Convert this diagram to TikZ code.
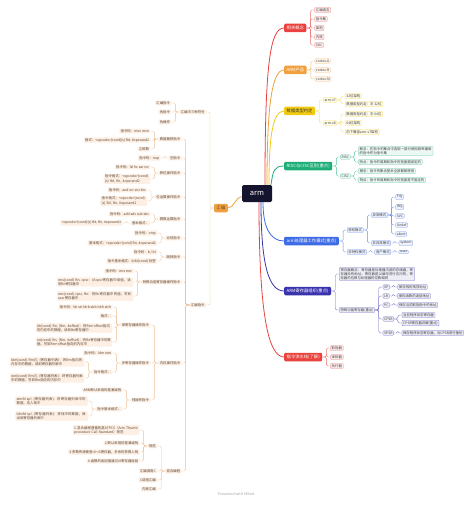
\documentclass[tikz,border=0pt]{standalone}
\usepackage{fontspec}
\setmainfont{Noto Sans CJK SC}
\XeTeXlinebreaklocale "zh"
\XeTeXlinebreakskip = 0pt plus 1pt
\usetikzlibrary{positioning,calc}
\definecolor{rootc}{HTML}{14142E}
\definecolor{cA}{HTML}{E8413F}
\definecolor{cB}{HTML}{F0A03C}
\definecolor{cC}{HTML}{F2CB0F}
\definecolor{cD}{HTML}{1DAE78}
\definecolor{cE}{HTML}{3E6BE6}
\definecolor{cF}{HTML}{3A33AE}
\definecolor{cG}{HTML}{E8433D}
\definecolor{lfbg}{HTML}{FDEFE3}
\definecolor{lfln}{HTML}{F0C197}
\definecolor{lftx}{HTML}{5A4636}

\begin{document}
\begin{tikzpicture}[x=1pt,y=-1pt,
  root/.style={fill=rootc,text=white,rounded corners=1.5pt,inner sep=0pt,minimum width=30pt,minimum height=17pt,font=\fontsize{7.5}{8}\selectfont},
  brn/.style={fill=#1,text=white,rounded corners=1.2pt,inner xsep=2.5pt,inner ysep=0pt,minimum height=8.5pt,font=\fontsize{4.3}{5}\selectfont},
  lf/.style={fill=lfbg,text=lftx,rounded corners=0.8pt,inner xsep=1.2pt,inner ysep=0.9pt,align=left,font=\fontsize{3.4}{4.1}\selectfont,anchor=east},
  rl/.style={fill=#1!9,draw=#1!70,line width=0.25pt,text=black!75,rounded corners=0.8pt,inner xsep=1.2pt,inner ysep=0.9pt,align=left,font=\fontsize{3.4}{4.1}\selectfont,anchor=west},
  lnkL/.style={draw=lfln,line width=0.35pt,rounded corners=1.5pt,to path={-- ++(-4,0) |- (\tikztotarget)}},
  lnkR/.style={draw=#1!75,line width=0.35pt,rounded corners=1.5pt,to path={-- ++(4,0) |- (\tikztotarget)}},
  bigl/.style={draw=#1,line width=0.8pt}]
\useasboundingbox (0,0) rectangle (474,508);
\fill[white] (0,0) rectangle (474,508);
% ---------- root ----------
\node[root] (arm) at (257,193.5) {arm};
% ---------- right: 相关概念 ----------
\node[brn=cA,anchor=west] (gn) at (284,28) {相关概念};
\node[rl=cA] (gn1) at ([xshift=8]gn.east |- 0,10) {汇编语言};
\node[rl=cA] (gn2) at ([xshift=8]gn.east |- 0,19) {指令集};
\node[rl=cA] (gn3) at ([xshift=8]gn.east |- 0,28) {架构};
\node[rl=cA] (gn4) at ([xshift=8]gn.east |- 0,37) {内核};
\node[rl=cA] (gn5) at ([xshift=8]gn.east |- 0,45) {SOC};
\foreach \c in {gn1,gn2,gn3,gn4,gn5} \draw[lnkR=cA] (gn.east) to (\c.west);
% ---------- right: ARM产品 ----------
\node[brn=cB,anchor=west] (cp) at (284,70) {ARM产品};
\node[rl=cB] (cp1) at ([xshift=8]cp.east |- 0,61) {cortex-A};
\node[rl=cB] (cp2) at ([xshift=8]cp.east |- 0,70) {cortex-R};
\node[rl=cB] (cp3) at ([xshift=8]cp.east |- 0,79) {cortex-M};
\foreach \c in {cp1,cp2,cp3} \draw[lnkR=cB] (cp.east) to (\c.west);
% ---------- right: 数据类型约定 ----------
\node[brn=cC,text=black!80,anchor=west] (sj) at (284,111) {数据类型约定};
\node[rl=cC] (v7) at ([xshift=8]sj.east |- 0,100) {arm-v7};
\node[rl=cC] (v8) at ([xshift=8]sj.east |- 0,123) {arm-v8};
\node[rl=cC] (v71) at ([xshift=8]v7.east |- 0,96) {32位架构};
\node[rl=cC] (v72) at ([xshift=8]v7.east |- 0,104) {数据类型约定：字 32位};
\node[rl=cC] (v81) at ([xshift=8]v8.east |- 0,114) {数据类型约定：字 64位};
\node[rl=cC] (v82) at ([xshift=8]v8.east |- 0,123) {64位架构};
\node[rl=cC] (v83) at ([xshift=8]v8.east |- 0,132) {向下兼容arm-v7架构};
\foreach \c in {v7,v8} \draw[lnkR=cC] (sj.east) to (\c.west);
\foreach \c in {v71,v72} \draw[lnkR=cC] (v7.east) to (\c.west);
\foreach \c in {v81,v82,v83} \draw[lnkR=cC] (v8.east) to (\c.west);
% ---------- right: RISC/CISC ----------
\node[brn=cD,anchor=west] (rc) at (284,166) {RISC与CISC区别(重点)};
\node[rl=cD] (ri) at ([xshift=8]rc.east |- 0,157) {RISC};
\node[rl=cD] (ci) at ([xshift=8]rc.east |- 0,176) {CISC};
\node[rl=cD,text width=72pt] (ri1) at ([xshift=8]ri.east |- 0,151) {概念：在指令的集合中选取一部分使用频率最高的指令作为指令集};
\node[rl=cD] (ri2) at ([xshift=8]ri.east |- 0,162) {特点：指令的周期和指令的宽度是固定的};
\node[rl=cD] (ci1) at ([xshift=8]ci.east |- 0,171) {概念：指令的集合基本全部都被使用};
\node[rl=cD] (ci2) at ([xshift=8]ci.east |- 0,180) {特点：指令的周期和指令的宽度是不固定的};
\foreach \c in {ri,ci} \draw[lnkR=cD] (rc.east) to (\c.west);
\foreach \c in {ri1,ri2} \draw[lnkR=cD] (ri.east) to (\c.west);
\foreach \c in {ci1,ci2} \draw[lnkR=cD] (ci.east) to (\c.west);
% ---------- right: 工作模式 ----------
\node[brn=cE,anchor=west] (gz) at (284,241) {arm处理器工作模式(重点)};
\node[rl=cE] (tq) at ([xshift=8]gz.east |- 0,230) {特权模式};
\node[rl=cE] (ft) at ([xshift=8]gz.east |- 0,252) {非特权模式};
\node[rl=cE] (yc) at ([xshift=8]tq.east |- 0,215) {异常模式};
\node[rl=cE] (fy) at ([xshift=8]tq.east |- 0,243) {非异常模式};
\node[rl=cE] (yc1) at ([xshift=8]yc.east |- 0,197) {FIQ};
\node[rl=cE] (yc2) at ([xshift=8]yc.east |- 0,207) {IRQ};
\node[rl=cE] (yc3) at ([xshift=8]yc.east |- 0,216) {SVC};
\node[rl=cE] (yc4) at ([xshift=8]yc.east |- 0,225) {Undef};
\node[rl=cE] (yc5) at ([xshift=8]yc.east |- 0,234) {abort};
\node[rl=cE] (fy1) at ([xshift=8]fy.east |- 0,243) {system};
\node[rl=cE] (yh) at ([xshift=8]ft.east |- 0,252) {用户模式};
\node[rl=cE] (yh1) at ([xshift=8]yh.east |- 0,252) {user};
\foreach \c in {tq,ft} \draw[lnkR=cE] (gz.east) to (\c.west);
\foreach \c in {yc,fy} \draw[lnkR=cE] (tq.east) to (\c.west);
\foreach \c in {yc1,yc2,yc3,yc4,yc5} \draw[lnkR=cE] (yc.east) to (\c.west);
\draw[lnkR=cE] (fy.east) to (fy1.west);
\draw[lnkR=cE] (ft.east) to (yh.west);
\draw[lnkR=cE] (yh.east) to (yh1.west);
% ---------- right: 寄存器组织 ----------
\node[brn=cF,anchor=west] (jc) at (284,291) {ARM寄存器组织(重点)};
\node[rl=cF,text width=73pt] (jg) at ([xshift=8]jc.east |- 0,274) {寄存器概念：寄存器是处理器内部的存储器，寄存器没有地址，寄存器是以编号进行访问的，寄存器的位数与处理器的位数相同};
\node[rl=cF] (ts) at ([xshift=8]jc.east |- 0,310) {特殊功能寄存器(重点)};
\node[rl=cF] (sp) at ([xshift=8]ts.east |- 0,287) {SP};
\node[rl=cF] (lr) at ([xshift=8]ts.east |- 0,296) {LR};
\node[rl=cF] (pc) at ([xshift=8]ts.east |- 0,305) {PC};
\node[rl=cF] (cpsr) at ([xshift=8]ts.east |- 0,319) {CPSR};
\node[rl=cF] (spsr) at ([xshift=8]ts.east |- 0,333) {SPSR};
\node[rl=cF] (sp1) at ([xshift=8]sp.east |- 0,287) {保存栈的栈顶地址};
\node[rl=cF] (lr1) at ([xshift=8]lr.east |- 0,296) {保存函数的返回地址};
\node[rl=cF] (pc1) at ([xshift=8]pc.east |- 0,305) {保存当前取指指令的地址};
\node[rl=cF] (cp_1) at ([xshift=8]cpsr.east |- 0,315) {当前程序状态寄存器};
\node[rl=cF] (cp_2) at ([xshift=8]cpsr.east |- 0,323) {CPSR寄存器详解(重点)};
\node[rl=cF] (spsr1) at ([xshift=8]spsr.east |- 0,333) {保存程序状态寄存器，对CPSR进行备份};
\foreach \c in {jg,ts} \draw[lnkR=cF] (jc.east) to (\c.west);
\foreach \c in {sp,lr,pc,cpsr,spsr} \draw[lnkR=cF] (ts.east) to (\c.west);
\draw[lnkR=cF] (sp.east) to (sp1.west);
\draw[lnkR=cF] (lr.east) to (lr1.west);
\draw[lnkR=cF] (pc.east) to (pc1.west);
\foreach \c in {cp_1,cp_2} \draw[lnkR=cF] (cpsr.east) to (\c.west);
\draw[lnkR=cF] (spsr.east) to (spsr1.west);
% ---------- right: 流水线 ----------
\node[brn=cG,anchor=west] (ls) at (284,357) {指令流水线(了解)};
\node[rl=cG] (ls1) at ([xshift=8]ls.east |- 0,348) {取指器};
\node[rl=cG] (ls2) at ([xshift=8]ls.east |- 0,357) {译码器};
\node[rl=cG] (ls3) at ([xshift=8]ls.east |- 0,366) {执行器};
\foreach \c in {ls1,ls2,ls3} \draw[lnkR=cG] (ls.east) to (\c.west);
% ---------- branches from root ----------
\draw[bigl=cA] ([xshift=8]arm.north) .. controls +(0,-120) and +(-14,0) .. (gn.west);
\draw[bigl=cB] ([xshift=10]arm.north) .. controls +(0,-80) and +(-12,0) .. (cp.west);
\draw[bigl=cC] ([xshift=12]arm.north) .. controls +(0,-45) and +(-12,0) .. (sj.west);
\draw[bigl=cD] ([xshift=14]arm.north) .. controls +(2,-14) and +(-10,0) .. (rc.west);
\draw[bigl=cE] ([xshift=6]arm.south) .. controls +(0,25) and +(-14,0) .. (gz.west);
\draw[bigl=cF] ([xshift=4]arm.south) .. controls +(0,60) and +(-16,0) .. (jc.west);
\draw[bigl=cG] ([xshift=2]arm.south) .. controls +(0,110) and +(-16,0) .. (ls.west);
% ---------- left: 汇编 ----------
\node[brn=cB,text=lftx] (hb) at (221,208) {汇编};
\draw[bigl=cB] ([yshift=-3]arm.west) .. controls +(-6,0) and +(6,0) .. (hb.east);
\node[lf] (fh) at ([xshift=-8]hb.west |- 0,112) {汇编中三种符号};
\node[lf] (zl) at ([xshift=-8]hb.west |- 0,305) {汇编指令};
\foreach \c in {fh,zl} \draw[lnkL] (hb.west) to (\c.east);
\node[lf] (fh1) at ([xshift=-8]fh.west |- 0,103) {汇编指令};
\node[lf] (fh2) at ([xshift=-8]fh.west |- 0,112) {伪指令};
\node[lf] (fh3) at ([xshift=-8]fh.west |- 0,122) {伪操作};
\foreach \c in {fh1,fh2,fh3} \draw[lnkL] (fh.west) to (\c.east);
% instruction groups
\node[lf] (d1) at ([xshift=-8]zl.west |- 0,139) {数据搬移指令};
\node[lf] (d2) at ([xshift=-8]zl.west |- 0,158) {空指令};
\node[lf] (d3) at ([xshift=-8]zl.west |- 0,173) {移位操作指令};
\node[lf] (d4) at ([xshift=-8]zl.west |- 0,197) {位运算操作指令};
\node[lf] (d5) at ([xshift=-8]zl.west |- 0,219) {算数运算指令};
\node[lf] (d6) at ([xshift=-8]zl.west |- 0,238) {比较指令};
\node[lf] (d7) at ([xshift=-8]zl.west |- 0,257) {跳转指令};
\node[lf] (d8) at ([xshift=-8]zl.west |- 0,282) {特殊功能寄存器操作指令};
\node[lf] (d9) at ([xshift=-8]zl.west |- 0,363) {内存操作指令};
\node[lf] (d10) at ([xshift=-8]zl.west |- 0,471) {混合编程};
\foreach \c in {d1,d2,d3,d4,d5,d6,d7,d8,d9,d10} \draw[lnkL] (zl.west) to (\c.east);
\node[lf] (d11) at ([xshift=-8]d1.west |- 0,131) {指令码：mov mvn};
\node[lf] (d12) at ([xshift=-8]d1.west |- 0,140) {格式：<opcode>\{cond\}\{s\} Rd, \#operand2};
\node[lf] (d13) at ([xshift=-8]d1.west |- 0,149) {立即数};
\foreach \c in {d11,d12,d13} \draw[lnkL] (d1.west) to (\c.east);
\node[lf] (d21) at ([xshift=-8]d2.west |- 0,158) {指令码：nop};
\draw[lnkL] (d2.west) to (d21.east);
\node[lf] (d31) at ([xshift=-8]d3.west |- 0,167) {指令码：lsl lsr asr ror};
\node[lf,text width=44pt] (d32) at ([xshift=-8]d3.west |- 0,179) {指令格式：<opcode>\{cond\}\{s\} Rd, Rn, \#operand2};
\foreach \c in {d31,d32} \draw[lnkL] (d3.west) to (\c.east);
\node[lf] (d41) at ([xshift=-8]d4.west |- 0,190) {指令码：and orr eor bic};
\node[lf,text width=44pt] (d42) at ([xshift=-8]d4.west |- 0,201) {指令格式：<opcode>\{cond\}\{s\} Rd, Rn, \#operand2};
\foreach \c in {d41,d42} \draw[lnkL] (d4.west) to (\c.east);
\node[lf] (d51) at ([xshift=-8]d5.west |- 0,214) {指令码：add adc sub sbc};
\node[lf] (d52) at ([xshift=-8]d5.west |- 0,223) {基本格式：};
\node[lf] (d53) at ([xshift=-8]d52.west |- 0,223) {<opcode>\{cond\}\{s\} Rd, Rn, \#operand2};
\foreach \c in {d51,d52} \draw[lnkL] (d5.west) to (\c.east);
\draw[lnkL] (d52.west) to (d53.east);
\node[lf] (d61) at ([xshift=-8]d6.west |- 0,233) {指令码：cmp};
\node[lf] (d62) at ([xshift=-8]d6.west |- 0,243) {基本格式：<opcode>\{cond\} Rn, \#operand2};
\foreach \c in {d61,d62} \draw[lnkL] (d6.west) to (\c.east);
\node[lf] (d71) at ([xshift=-8]d7.west |- 0,252) {指令码：b / bl};
\node[lf] (d72) at ([xshift=-8]d7.west |- 0,261) {指令基本格式：b/bl\{cond\} 标签};
\foreach \c in {d71,d72} \draw[lnkL] (d7.west) to (\c.east);
\node[lf] (d81) at ([xshift=-8]d8.west |- 0,271) {指令码：mrs msr};
\node[lf,text width=74pt] (d82) at ([xshift=-8]d8.west |- 0,282) {mrs\{cond\} Rn, cpsr：从cpsr寄存器中读值，读到Rn寄存器中};
\node[lf,text width=74pt] (d83) at ([xshift=-8]d8.west |- 0,296) {msr\{cond\} cpsr, Rn：将Rn寄存器中的值，写到cpsr寄存器中};
\foreach \c in {d81,d82,d83} \draw[lnkL] (d8.west) to (\c.east);
% memory instructions
\node[lf] (m1) at ([xshift=-8]d9.west |- 0,325) {单寄存器操作指令};
\node[lf] (m2) at ([xshift=-8]d9.west |- 0,363) {多寄存器操作指令};
\node[lf] (m3) at ([xshift=-8]d9.west |- 0,400) {栈操作指令};
\foreach \c in {m1,m2,m3} \draw[lnkL] (d9.west) to (\c.east);
\node[lf] (m11) at ([xshift=-8]m1.west |- 0,307) {指令码：ldr str ldrb strb ldrh strh};
\node[lf] (m12) at ([xshift=-8]m1.west |- 0,316) {格式：};
\node[lf,text width=74pt] (m13) at ([xshift=-8]m1.west |- 0,328) {ldr\{cond\} Rn, [Rm, \#offset]：将Rm+offset指向的内存中的数据，读到Rn寄存器中};
\node[lf,text width=74pt] (m14) at ([xshift=-8]m1.west |- 0,342) {str\{cond\} Rn, [Rm, \#offset]：将Rn寄存器中的数据，写到Rm+offset指向的内存中};
\foreach \c in {m11,m12,m13,m14} \draw[lnkL] (m1.west) to (\c.east);
\node[lf] (m21) at ([xshift=-8]m2.west |- 0,353) {指令码：ldm stm};
\node[lf] (m22) at ([xshift=-8]m2.west |- 0,372) {指令格式：};
\foreach \c in {m21,m22} \draw[lnkL] (m2.west) to (\c.east);
\node[lf,text width=72pt] (m221) at ([xshift=-8]m22.west |- 0,362) {ldm\{cond\} Rm\{!\}, \{寄存器列表\}：将Rm指向的内存中的数据，读到寄存器列表中};
\node[lf,text width=72pt] (m222) at ([xshift=-8]m22.west |- 0,378) {stm\{cond\} Rm\{!\}, \{寄存器列表\}：将寄存器列表中的数据，写到Rm指向的内存中};
\foreach \c in {m221,m222} \draw[lnkL] (m22.west) to (\c.east);
\node[lf] (m31) at ([xshift=-8]m3.west |- 0,390) {ARM默认采用的是满减栈};
\node[lf] (m32) at ([xshift=-8]m3.west |- 0,409) {指令基本格式：};
\foreach \c in {m31,m32} \draw[lnkL] (m3.west) to (\c.east);
\node[lf,text width=70pt] (m321) at ([xshift=-8]m32.west |- 0,401) {stmfd sp!, \{寄存器列表\}：将寄存器列表中的数据，压入栈中};
\node[lf,text width=70pt] (m322) at ([xshift=-8]m32.west |- 0,416) {ldmfd sp!, \{寄存器列表\}：将栈中的数据，弹出到寄存器列表中};
\foreach \c in {m321,m322} \draw[lnkL] (m32.west) to (\c.east);
% mixed programming
\node[lf] (h1) at ([xshift=-8]d10.west |- 0,446) {规范};
\node[lf] (h2) at ([xshift=-8]d10.west |- 0,471) {汇编调用C};
\node[lf] (h3) at ([xshift=-8]d10.west |- 0,480) {C调用汇编};
\node[lf] (h4) at ([xshift=-8]d10.west |- 0,489) {内联汇编};
\foreach \c in {h1,h2,h3,h4} \draw[lnkL] (d10.west) to (\c.east);
\node[lf,text width=64pt] (h11) at ([xshift=-8]h1.west |- 0,430) {1.混合编程遵循的是ATPCS（Arm Thumb procedure Call Standard）规范};
\node[lf] (h12) at ([xshift=-8]h1.west |- 0,443) {2.默认采用的是满减栈};
\node[lf] (h13) at ([xshift=-8]h1.west |- 0,452) {3.参数传递使用r0\textasciitilde r3寄存器，多余的参数入栈};
\node[lf] (h14) at ([xshift=-8]h1.west |- 0,461) {4.函数的返回值通过r0寄存器返回};
\foreach \c in {h11,h12,h13,h14} \draw[lnkL] (h1.west) to (\c.east);
% watermark
\node[text=black!35,font=\fontsize{3.6}{4}\selectfont] (wm) at (236,494) {Presented with XMind};
\end{tikzpicture}
\end{document}
